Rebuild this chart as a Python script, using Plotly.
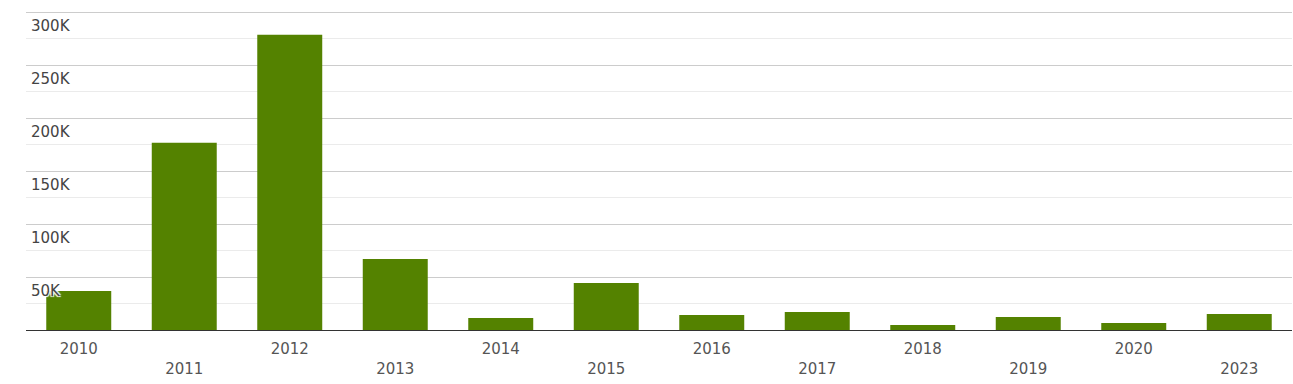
import plotly.graph_objects as go

years = ["2010", "2011", "2012", "2013", "2014", "2015", "2016", "2017", "2018", "2019", "2020", "2023"]
values = [36800, 176600, 278600, 67000, 11300, 44400, 14200, 17000, 4700, 12300, 6600, 15100]
y_tick_vals = [50000, 100000, 150000, 200000, 250000, 300000]
y_tick_text = ["50K", "100K", "150K", "200K", "250K", "300K"]

x_tick_text = [y if i % 2 == 0 else " <br>" + y for i, y in enumerate(years)]

fig = go.Figure(
    go.Bar(
        x=years,
        y=values,
        marker=dict(color="#548200", line=dict(width=0)),
        hoverinfo="x+y",
    )
)

fig.update_layout(
    width=1293,
    height=384,
    margin=dict(l=26, r=1, t=10, b=54),
    paper_bgcolor="white",
    plot_bgcolor="white",
    bargap=0.384,
    showlegend=False,
    font=dict(family="DejaVu Sans", size=15, color="#444"),
)

fig.update_xaxes(
    type="category",
    range=[-0.5, len(years) - 0.5],
    tickvals=years,
    ticktext=x_tick_text,
    showgrid=False,
    showline=False,
    ticks="",
    ticklabelstandoff=8,
    tickfont=dict(family="DejaVu Sans", size=15, color="#555"),
)

fig.update_yaxes(
    range=[0, 302000],
    tickvals=y_tick_vals,
    ticktext=y_tick_text,
    ticklabelposition="inside bottom",
    ticklabelstandoff=2,
    ticklabelshift=3,
    tickfont=dict(family="DejaVu Sans", size=15, color="#444",
                  shadow="1px 1px 1px #fff, -1px -1px 1px #fff, 1px -1px 1px #fff, -1px 1px 1px #fff"),
    showgrid=True,
    gridcolor="#cccccc",
    gridwidth=1,
    minor=dict(dtick=25000, showgrid=True, gridcolor="#ebebeb", gridwidth=1),
    zeroline=True,
    zerolinecolor="#333333",
    zerolinewidth=1,
    showline=False,
    ticks="",
    layer="above traces",
)

fig.write_html("out.html")
